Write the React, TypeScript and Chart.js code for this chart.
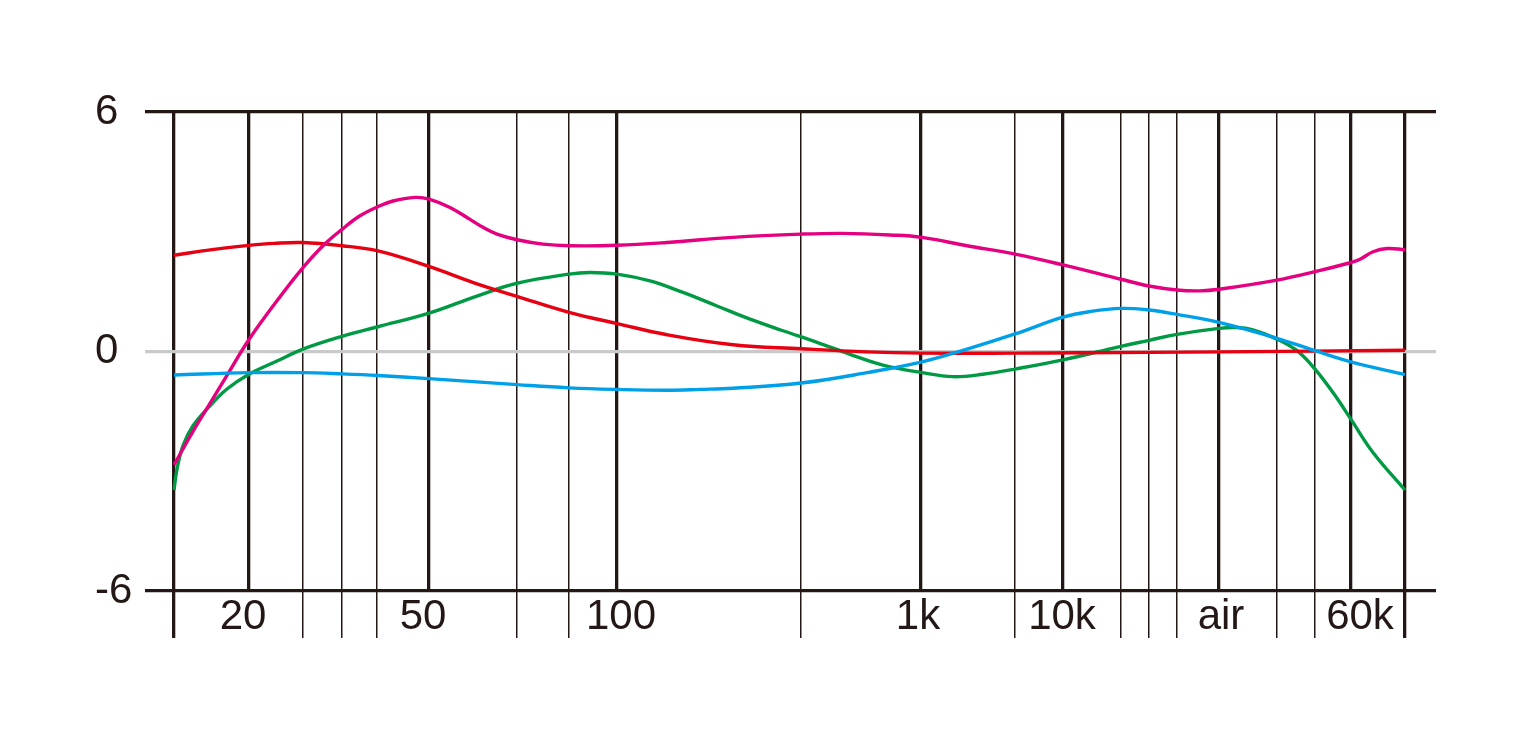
import React, { useEffect, useRef } from "react";
import { Chart, ChartConfiguration, registerables } from "chart.js";

Chart.register(...registerables);

const INK = "#231815";
const ZERO_GREY = "#c9caca";
const CLEAR = "rgba(0,0,0,0)";
const FONT = "'Liberation Sans', Arial, Helvetica, sans-serif";

// x positions run along the band strip: 0 = left edge line, 1231 = right edge line
const edgeLines = [0, 1231];
const majorLines = [75, 255, 443, 747, 889, 1045, 1177];
const minorLines = [129, 168, 203, 343, 395, 627, 841, 947, 975, 1003, 1103, 1141];

const bandLabels = ["20", "50", "100", "1k", "10k", "air", "60k"];
const bandLabelPos = [69, 249, 447, 744, 888, 1047, 1186];

const levelTicks = [-6, 0, 6];

// curves (dB)
const redPos = [0, 40, 75, 100, 129, 168, 204, 255, 300, 343, 395, 443, 493, 559, 627, 693, 748, 841, 906, 1045, 1231];
const redDb = [2.41, 2.56, 2.66, 2.71, 2.73, 2.65, 2.52, 2.13, 1.72, 1.38, 0.98, 0.7, 0.42, 0.17, 0.07, -0.01, -0.04, -0.04, -0.03, -0.01, 0.03];

const magentaPos = [0, 19, 36, 53, 75, 103, 129, 149, 168, 186, 204, 219, 241, 255, 276, 296, 309, 323, 343, 369, 395, 443, 493, 559, 627, 669, 716, 748, 793, 841, 889, 947, 975, 1003, 1026, 1045, 1103, 1141, 1177, 1186, 1199, 1213, 1231];
const magentaDb = [-2.84, -2.0, -1.3, -0.6, 0.3, 1.27, 2.1, 2.65, 3.06, 3.4, 3.63, 3.77, 3.86, 3.82, 3.61, 3.31, 3.11, 2.94, 2.8, 2.69, 2.65, 2.66, 2.73, 2.86, 2.94, 2.96, 2.92, 2.86, 2.65, 2.44, 2.17, 1.81, 1.64, 1.54, 1.52, 1.56, 1.79, 2.0, 2.23, 2.31, 2.5, 2.58, 2.55];

const greenPos = [0, 3, 9, 19, 36, 53, 75, 103, 129, 168, 204, 255, 303, 343, 395, 416, 443, 476, 509, 543, 576, 609, 643, 676, 709, 748, 779, 809, 841, 889, 947, 975, 1003, 1045, 1063, 1079, 1103, 1123, 1141, 1159, 1177, 1199, 1231];
const greenDb = [-3.47, -2.95, -2.36, -1.86, -1.36, -0.94, -0.57, -0.24, 0.06, 0.38, 0.62, 0.96, 1.39, 1.71, 1.94, 1.98, 1.94, 1.77, 1.48, 1.14, 0.81, 0.52, 0.23, -0.07, -0.34, -0.53, -0.63, -0.57, -0.44, -0.21, 0.13, 0.28, 0.43, 0.58, 0.6, 0.54, 0.31, 0.02, -0.44, -1.03, -1.7, -2.53, -3.47];

const bluePos = [0, 75, 129, 168, 204, 255, 343, 395, 443, 493, 526, 559, 627, 693, 748, 793, 841, 889, 916, 947, 975, 1003, 1045, 1103, 1141, 1177, 1231];
const blueDb = [-0.59, -0.53, -0.53, -0.56, -0.6, -0.68, -0.83, -0.91, -0.95, -0.97, -0.95, -0.92, -0.79, -0.53, -0.26, 0.06, 0.44, 0.86, 1.0, 1.08, 1.04, 0.93, 0.73, 0.33, 0.02, -0.26, -0.58];

const toPoints = (xs: number[], ys: number[]) => xs.map((x, i) => ({ x, y: ys[i] }));

const allXTicks = [...edgeLines, ...majorLines, ...minorLines, ...bandLabelPos].sort((a, b) => a - b);

const lineKind = (v: number | undefined) => {
	if (v === undefined) return "none";
	if (edgeLines.includes(v)) return "edge";
	if (majorLines.includes(v)) return "major";
	if (minorLines.includes(v)) return "minor";
	return "none";
};

const curve = (label: string, color: string, data: { x: number; y: number }[]) => ({
	label,
	data,
	borderColor: color,
	borderWidth: 3.4,
	pointRadius: 0,
	fill: false,
	tension: 0.4,
});

const App: React.FC = () => {
	const canvasRef = useRef<HTMLCanvasElement | null>(null);
	const chart = useRef<Chart | null>(null);

	useEffect(() => {
		const ctx = canvasRef.current?.getContext("2d");
		if (!ctx) return;

		const config = {
			type: "line",
			data: {
				datasets: [
					curve("blue", "#00a0e9", toPoints(bluePos, blueDb)),
					curve("magenta", "#e4007f", toPoints(magentaPos, magentaDb)),
					curve("red", "#e60012", toPoints(redPos, redDb)),
					curve("green", "#009944", toPoints(greenPos, greenDb)),
				],
			},
			options: {
				responsive: false,
				animation: false,
				events: [],
				layout: { padding: { left: 95, right: 98, top: 112, bottom: 0 } },
				plugins: {
					legend: { display: false },
					tooltip: { enabled: false },
				},
				scales: {
					x: {
						type: "linear",
						min: -29,
						max: 1262,
						afterBuildTicks: (scale: any) => {
							scale.ticks = allXTicks.map((value) => ({ value }));
						},
						afterFit: (scale: any) => {
							scale.height = 149;
						},
						border: { display: false },
						grid: {
							drawTicks: true,
							tickLength: 47,
							color: (c: any) => (lineKind(c.tick?.value) === "none" ? CLEAR : INK),
							lineWidth: (c: any) => (lineKind(c.tick?.value) === "minor" ? 1.5 : 3.3),
							tickColor: (c: any) => {
								const k = lineKind(c.tick?.value);
								return k === "edge" || k === "minor" ? INK : CLEAR;
							},
							tickWidth: (c: any) => (lineKind(c.tick?.value) === "minor" ? 1.5 : 3.3),
						},
						ticks: {
							autoSkip: false,
							maxRotation: 0,
							minRotation: 0,
							padding: -46,
							color: INK,
							font: { family: FONT, size: 42 },
							callback: (v: any) => {
								const i = bandLabelPos.indexOf(Number(v));
								return i >= 0 ? bandLabels[i] : "";
							},
						},
					},
					y: {
						type: "linear",
						min: -6,
						max: 6,
						afterBuildTicks: (scale: any) => {
							scale.ticks = levelTicks.map((value) => ({ value }));
						},
						afterFit: (scale: any) => {
							scale.width = 50;
						},
						border: { display: false },
						grid: {
							drawTicks: false,
							color: (c: any) => (c.tick?.value === 0 ? ZERO_GREY : INK),
							lineWidth: 3.3,
						},
						ticks: {
							crossAlign: "far",
							padding: 0,
							color: INK,
							font: { family: FONT, size: 42 },
							callback: (v: any) => String(v),
						},
					},
				},
			},
		} as ChartConfiguration;

		chart.current = new Chart(ctx, config);

		return () => {
			if (chart.current) {
				chart.current.destroy();
				chart.current = null;
			}
		};
	}, []);

	return (
		<div style={{ position: "absolute", left: 0, top: 0, width: 1534, height: 740, background: "#fff" }}>
			<canvas ref={canvasRef} width={1534} height={740} style={{ display: "block" }} />
		</div>
	);
};

export default App;
